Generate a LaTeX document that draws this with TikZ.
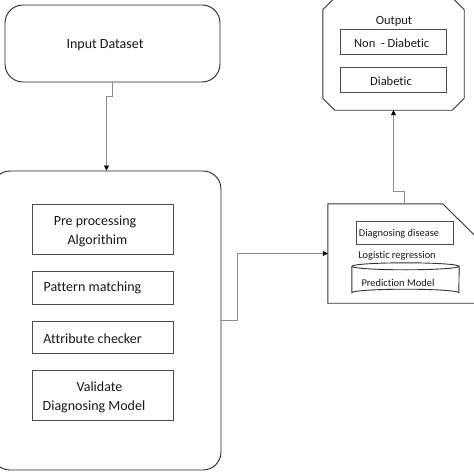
\documentclass[tikz,border=0pt]{standalone}
\usepackage{fontspec}
\setmainfont{Carlito}[Ligatures=NoCommon]
\usetikzlibrary{arrows.meta,calc}
\begin{document}
\begin{tikzpicture}[x=1pt,y=-1pt,
  conn/.style={draw=black!45, line width=0.8pt},
  tip/.style={-{Triangle[length=5pt,width=5pt,black]}},
  rbox/.style={draw=black!85, line width=0.9pt, rounded corners=18pt, inner sep=0pt},
  ibox/.style={draw=black!70, line width=0.9pt, inner sep=0pt, minimum width=141pt},
  btxt/.style={inner sep=0pt, align=center, font=\fontsize{14}{19}\selectfont, text=black!90},
  obox/.style={draw=black!70, line width=0.9pt, inner sep=0pt, minimum width=106pt, minimum height=25pt},
  otxt/.style={inner sep=0pt, font=\fontsize{12.5}{14}\selectfont, text=black!90},
  small/.style={inner sep=0pt, font=\fontsize{10.4}{12}\selectfont, text=black!90},
  plain/.style={draw=black!80, line width=0.9pt}]
\useasboundingbox (0,0) rectangle (474,474);
\fill[white] (0,0) rectangle (474,474);
\clip (0,0) rectangle (474,474);

% Input dataset
\node[rbox, minimum width=215pt, minimum height=77pt] (in) at (112.5,43.5) {};
\node[btxt] (int) at (105,45) {Input Dataset};

% Main processing box
\node[rbox, minimum width=229pt, minimum height=299pt] (main) at (106.5,320.5) {};
\node[ibox, minimum height=50pt] (b1) at (102.5,229) {};
\node[ibox, minimum height=33pt] (b2) at (102.5,287.5) {};
\node[ibox, minimum height=32pt] (b3) at (102.5,337) {};
\node[ibox, minimum height=50pt] (b4) at (102.5,395) {};
\node[btxt] (b1t) at (95,231.5) {Pre processing\\\hspace*{5pt}Algorithim};
\node[btxt] (b2t) at (92.5,288) {Pattern matching};
\node[btxt] (b3t) at (92.5,339) {Attribute checker};
\node[btxt] (b4t) at (94,397.5) {\hspace*{11pt}Validate\\Diagnosing Model};

% Output box (chamfered)
\node[inner sep=0pt, minimum width=141pt, minimum height=112pt] (out) at (393.5,54) {};
\draw[plain] ($(out.north west)+(12,0)$) -- ($(out.north east)+(-12,0)$) -- ($(out.north east)+(0,12)$)
  -- ($(out.south east)+(0,-12)$) -- ($(out.south east)+(-12,0)$) -- ($(out.south west)+(12,0)$)
  -- ($(out.south west)+(0,-12)$) -- ($(out.north west)+(0,12)$) -- cycle;
\node[otxt] (outt) at (394,21) {Output};
\node[obox] (nd) at (393,41.5) {};
\node[obox] (di) at (393,79.5) {};
\node[otxt] (ndt) at (391.7,43) {Non\ \ - Diabetic};
\node[otxt] (dit) at (391,81.5) {Diabetic};

% Prediction box (snipped corner)
\node[inner sep=0pt, minimum width=167pt, minimum height=99pt] (pbox) at (411.5,253.5) {};
\draw[plain] (pbox.north west) -- ($(pbox.north west)+(115,0)$) -- ($(pbox.north east)+(0,52)$) -- (pbox.south east) -- (pbox.south west) -- cycle;
\node[draw=black!70, line width=0.9pt, inner sep=0pt, minimum width=97pt, minimum height=23pt] (dd) at (404.5,232.5) {};
\node[small] (ddt) at (399,234) {Diagnosing disease};
\node[small] (lr) at (397,256) {Logistic regression};
\node[inner sep=0pt, minimum width=107pt, minimum height=33pt] (pm) at (405.5,279.5) {};
\draw[plain] ($(pm.north west)+(0,3.5)$) -- ($(pm.south west)+(0,-3.5)$) arc[start angle=180, end angle=0, x radius=53.5pt, y radius=3.5pt] -- ($(pm.north east)+(0,3.5)$);
\draw[plain] ($(pm.north)+(0,3.5)$) ellipse[x radius=53.5pt, y radius=3.5pt];
\node[small] (pmt) at (398,283) {Prediction Model};

% Connectors
\draw[conn, tip] (in.south) -- ++(0,14) -| (main.north);
\draw[conn, tip] (main.east) -- ++(16,0) |- (pbox.west);
\coordinate (p1) at ($(pbox.north west)+(77,0)$);
\draw[conn, tip] (p1) -- ++(0,-12) -| (out.south);
\end{tikzpicture}
\end{document}
